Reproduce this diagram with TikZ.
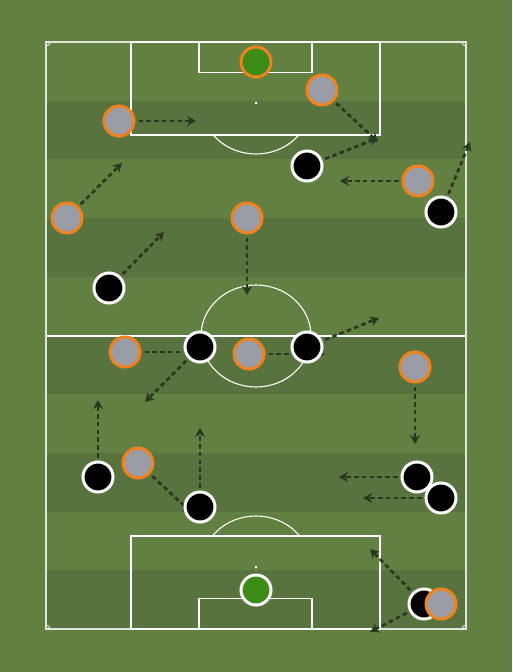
\documentclass[tikz,border=0pt]{standalone}
\usepackage{xcolor}
\usepackage{tikz}
\usetikzlibrary{arrows.meta,positioning,calc}

\definecolor{pitchgreen}{RGB}{98,128,66}
\definecolor{stripegreen}{RGB}{89,115,62}
\definecolor{arrowgreen}{RGB}{42,55,32}
\definecolor{playergray}{RGB}{154,157,165}
\definecolor{kitorange}{RGB}{240,130,31}
\definecolor{gkgreen}{RGB}{61,140,24}

\pgfdeclarelayer{pitch}
\pgfdeclarelayer{runs}
\pgfsetlayers{pitch,runs,main}

\begin{document}
\begin{tikzpicture}[
  x=1pt, y=-1pt,
  fieldline/.style={draw=white, line width=1.1pt},
  outerline/.style={draw=white!80!pitchgreen, line width=1.3pt},
  player/.style={circle, minimum size=30pt, inner sep=0pt, line width=3pt},
  homep/.style={player, fill=playergray, draw=kitorange},
  awayp/.style={player, fill=black, draw=white},
  homegk/.style={homep, fill=gkgreen},
  awaygk/.style={awayp, fill=gkgreen},
  run/.style={draw=arrowgreen, line width=2.7pt, dash pattern=on 4.5pt off 3.3pt,
    -{Stealth[length=9pt,width=10pt]}, shorten <=3pt}
]
\begin{pgfonlayer}{pitch}
\fill[pitchgreen] (0,0) rectangle (512,672);
\foreach \k in {1,3,5,7,9}
  \fill[stripegreen] (46,{42+\k*58.7}) rectangle (466,{42+(\k+1)*58.7});
\draw[outerline] (46,42) rectangle (466,629);
\draw[fieldline] (46,336) -- (466,336);
\draw[fieldline] (256,336) ellipse [x radius=55pt, y radius=51pt];
\fill[white] (256,336) circle (1.5pt);
\draw[fieldline] (131,42) rectangle (380,135);
\draw[fieldline] (199,42) rectangle (312,72.5);
\fill[white] (256,103) circle (1.5pt);
\draw[fieldline] (131,536) rectangle (380,629);
\draw[fieldline] (199,598.5) rectangle (312,629);
\fill[white] (256,567) circle (1.5pt);
\begin{scope}
  \clip (46,135) rectangle (466,300);
  \draw[fieldline] (256,103) ellipse [x radius=55pt, y radius=51pt];
\end{scope}
\begin{scope}
  \clip (46,380) rectangle (466,536);
  \draw[fieldline] (256,567) ellipse [x radius=55pt, y radius=51pt];
\end{scope}
\begin{scope}
  \clip (46,42) rectangle (466,629);
  \foreach \cx/\cy in {46/42,466/42,46/629,466/629}
    \draw[fieldline, line width=0.8pt] (\cx,\cy) circle (4pt);
\end{scope}
\end{pgfonlayer}

\node[awaygk] (agk) at (256,590) {};
\node[awayp] (a1) at (307,166) {};
\node[awayp] (a2) at (441,212) {};
\node[awayp] (a3) at (109,288) {};
\node[awayp] (a4) at (200,347) {};
\node[awayp] (a5) at (307,347) {};
\node[awayp] (a6) at (98,477) {};
\node[awayp] (a7) at (200,507) {};
\node[awayp] (a8) at (417,477) {};
\node[awayp] (a9) at (441,498) {};
\node[awayp] (a10) at (424,604) {};

\node[homegk] (hgk) at (256,62) {};
\node[homep] (h1) at (119,121) {};
\node[homep] (h2) at (67,218) {};
\node[homep] (h3) at (247,218) {};
\node[homep] (h4) at (322,90) {};
\node[homep] (h5) at (418,181) {};
\node[homep] (h6) at (125,352) {};
\node[homep] (h7) at (249,354) {};
\node[homep] (h8) at (415,367) {};
\node[homep] (h9) at (138,463) {};
\node[homep] (h10) at (441,604) {};

\coordinate (t1) at (196,121);
\coordinate (t2) at (122,163);
\coordinate (t3) at (247,295);
\coordinate (t4) at (378,142);
\coordinate (t5) at (340,181);
\coordinate (t6) at (197,352);
\coordinate (t7) at (325,354);
\coordinate (t8) at (415,444);
\coordinate (t9) at (192,513);
\coordinate (u1) at (378,138);
\coordinate (u2) at (470,142);
\coordinate (u3) at (164,232);
\coordinate (u4) at (145,402);
\coordinate (u5) at (379,318);
\coordinate (u6) at (98,400);
\coordinate (u7) at (200,428);
\coordinate (u8) at (339,477);
\coordinate (u9) at (363,498);
\coordinate (u10) at (370,549);
\coordinate (u11) at (370,632);

\begin{pgfonlayer}{runs}
\draw[run] (h1) -- (t1);
\draw[run] (h2) -- (t2);
\draw[run] (h3) -- (t3);
\draw[run] (h4) -- (t4);
\draw[run] (h5) -- (t5);
\draw[run] (h6) -- (t6);
\draw[run] (h7) -- (t7);
\draw[run] (h8) -- (t8);
\draw[run] (h9) -- (t9);
\draw[run] (a1) -- (u1);
\draw[run] (a2) -- (u2);
\draw[run] (a3) -- (u3);
\draw[run] (a4) -- (u4);
\draw[run] (a5) -- (u5);
\draw[run] (a6) -- (u6);
\draw[run] (a7) -- (u7);
\draw[run] (a8) -- (u8);
\draw[run] (a9) -- (u9);
\draw[run] (a10) -- (u10);
\draw[run] (a10) -- (u11);
\end{pgfonlayer}
\end{tikzpicture}
\end{document}
